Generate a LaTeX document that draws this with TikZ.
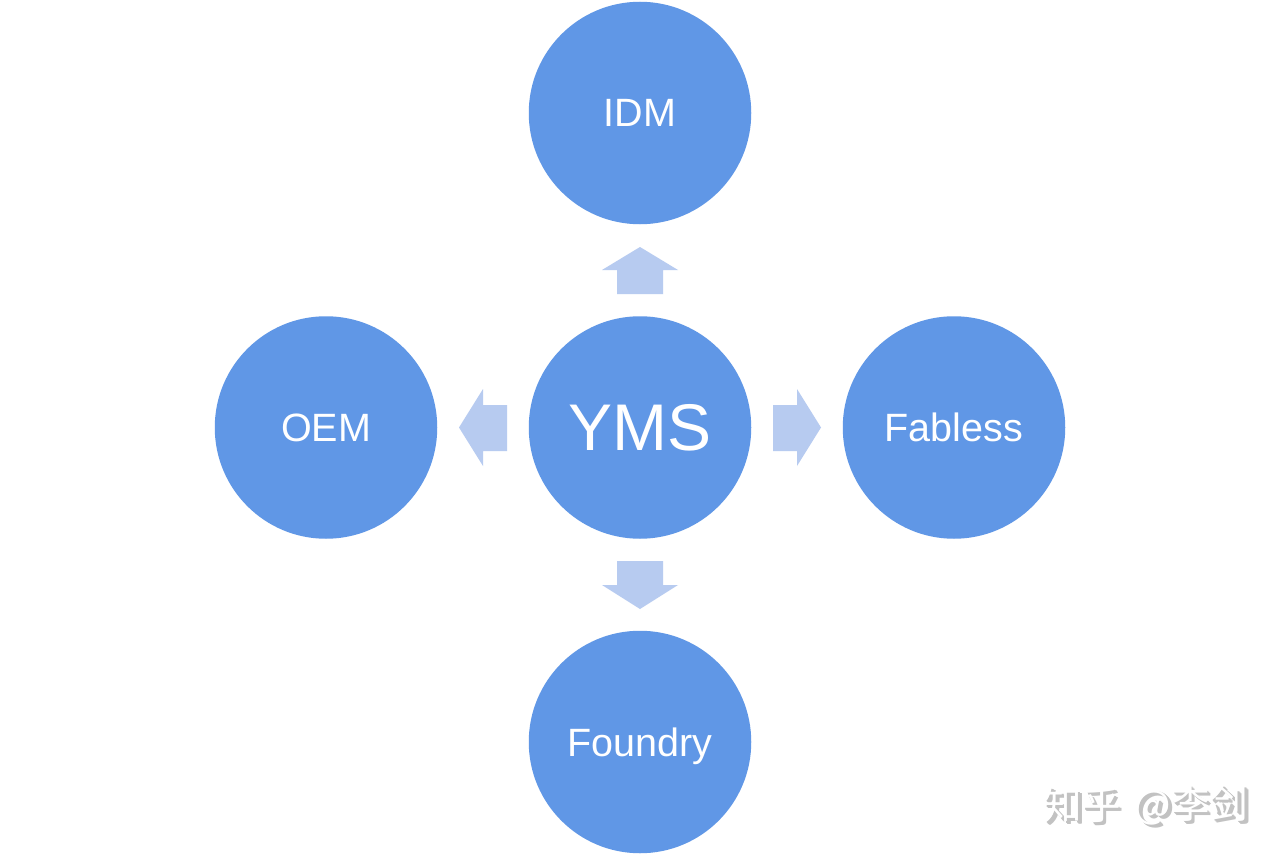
\documentclass[tikz,border=0pt]{standalone}
\usepackage{fontspec}
\setmainfont{Liberation Sans}
\newfontfamily\cjkfont{Noto Sans CJK SC}
\definecolor{circblue}{HTML}{6097E6}
\definecolor{arrowblue}{HTML}{B7CBF0}
\tikzset{
  hub/.style={circle,fill=circblue,draw=none,minimum size=222.5pt,inner sep=0pt,text=white,text depth=0pt},
  hubtext/.style={font=\fontsize{39.5}{48}\selectfont},
  blockarrow/.style={fill=arrowblue,draw=none},
  markshadow/.style={text=black!24,inner sep=0pt,anchor=west,font=\cjkfont\fontsize{38.5}{42}\selectfont},
  marktext/.style={text=white,inner sep=0pt,anchor=west,font=\cjkfont\fontsize{38.5}{42}\selectfont}
}
\begin{document}
\begin{tikzpicture}[x=1pt,y=-1pt]
\useasboundingbox (0,0) rectangle (1280,856);
\fill[white] (0,0) rectangle (1280,856);
\node[hub,hubtext] (idm) at (640,113) {IDM};
\node[hub,font=\fontsize{66}{80}\selectfont] (yms) at (640,427.5) {YMS};
\node[hub,hubtext] (oem) at (326,427.5) {OEM};
\node[hub,hubtext] (fabless) at (954,427.5) {Fabless};
\node[hub,hubtext] (foundry) at (640,742) {Foundry};
% block arrows
\fill[blockarrow] (640,247) -- (678,270) -- (663,270) -- (663,294) -- (617,294) -- (617,270) -- (602,270) -- cycle;
\fill[blockarrow] (640,609) -- (678,585) -- (663,585) -- (663,561) -- (617,561) -- (617,585) -- (602,585) -- cycle;
\fill[blockarrow] (459,427.5) -- (483,389) -- (483,405) -- (507,405) -- (507,451) -- (483,451) -- (483,466) -- cycle;
\fill[blockarrow] (821,427.5) -- (797,389) -- (797,405) -- (773,405) -- (773,451) -- (797,451) -- (797,466) -- cycle;
% watermark
\foreach \dx/\dy in {1.5/1.5,2.5/2.5,3.5/3}{
  \node[markshadow] (wmshadow) at (1043.5+\dx,805+\dy) {知乎};
  \node[markshadow] (wmshadowb) at (1134.5+\dx,805+\dy) {@李剑};
}
\node[marktext] (wma) at (1043.5,805) {知乎};
\node[marktext] (wmb) at (1134.5,805) {@李剑};
\end{tikzpicture}
\end{document}
